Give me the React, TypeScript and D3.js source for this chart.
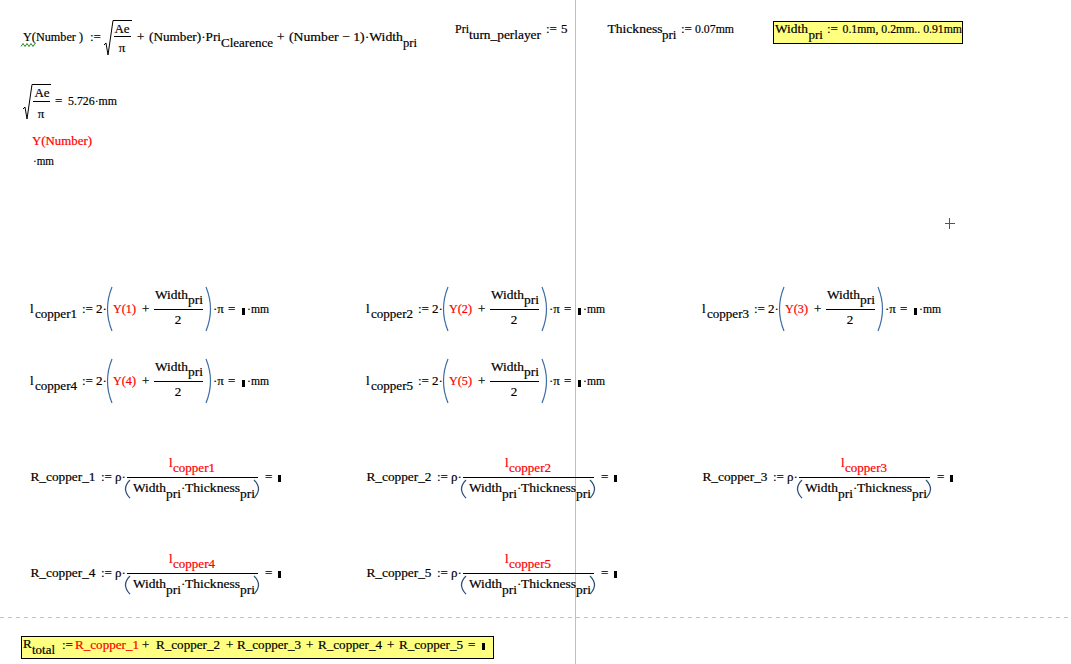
import React from "react";
import * as d3 from "d3";

const W = 1071, H = 664;
const FONT = "'Liberation Serif','Times New Roman',serif";
const FS = 13;
const RED = "#ff0000", INK = "#000000";

const lengthRows = [[1, 2, 3], [4, 5]];
const resistanceRows = [[1, 2, 3], [4, 5]];
const columnNames = ["a", "b", "c"];
const totalTerms = ["R_copper_1", "R_copper_2", "R_copper_3", "R_copper_4", "R_copper_5"];
const totalTermX = [75, 156, 237, 318, 399];
const totalPlusX = [142, 226, 306, 387, 468];
const totalOps = ["+", "+", "+", "+", "="];
const rangeText = "0.1mm, 0.2mm.. 0.91mm";

const colX = d3.scalePoint<string>().domain(columnNames).range([30, 702]);
const lenY = d3.scalePoint<string>().domain(["0", "1"]).range([313, 385]);
const resY = d3.scalePoint<string>().domain(["0", "1"]).range([481, 577]);
const line = d3.line<[number, number]>();

function T({ x, y, c = INK, a, w, children }: any) {
  const isRed = c === RED;
  return (
    <text
      x={x}
      y={y}
      fill={c}
      textAnchor={a}
      stroke={c}
      strokeWidth={isRed ? 0.22 : 0.2}
      fontFamily={FONT}
      fontSize={FS}
      textLength={w}
      lengthAdjust={w ? "spacingAndGlyphs" : undefined}
      xmlSpace="preserve"
    >
      {children}
    </text>
  );
}
function Bar({ x1, x2, y }: any) {
  return <path d={line([[x1, y], [x2, y]]) as string} stroke={INK} strokeWidth={1} fill="none" shapeRendering="crispEdges" />;
}
function Sqrt({ x, top, bottom, end }: any) {
  const d = line([[x, bottom - 10], [x + 2, bottom - 12], [x + 4, bottom], [x + 9, top], [end, top]]) as string;
  return <path d={d} stroke={INK} strokeWidth={1} fill="none" />;
}
function Dot({ x, y }: any) {
  return <rect x={x} y={y} width={3} height={7} fill={INK} />;
}
function Paren({ x, y0, y1, dir, col = "#3a6ea5" }: any) {
  const mid = (y0 + y1) / 2;
  const d = `M${x},${y0} Q${x - dir * 9},${mid} ${x},${y1}`;
  return <path d={d} stroke={col} strokeWidth={1.2} fill="none" />;
}

function LengthCell({ n, x, y }: any) {
  return (
    <g>
      <T x={x} y={y}>l</T>
      <T x={x + 5} y={y + 5} w={42}>{`copper${n}`}</T>
      <T x={x + 52} y={y}>:=</T>
      <T x={x + 66} y={y}>2·</T>
      <Paren x={x + 82} y0={y - 26} y1={y + 18} dir={1} />
      <T x={x + 83} y={y} c={RED} w={23}>{`Y(${n})`}</T>
      <T x={x + 112} y={y}>+</T>
      <T x={x + 125} y={y - 14} w={33}>Width</T>
      <T x={x + 158} y={y - 9} w={15}>pri</T>
      <Bar x1={x + 124} x2={x + 173} y={y - 3.5} />
      <T x={x + 148} y={y + 11} a="middle">2</T>
      <Paren x={x + 176} y0={y - 26} y1={y + 18} dir={-1} />
      <T x={x + 183} y={y}>·π</T>
      <T x={x + 198} y={y}>=</T>
      <Dot x={x + 212} y={y - 5} />
      <T x={x + 217} y={y} w={22}>·mm</T>
    </g>
  );
}

function ResistanceCell({ n, x, y }: any) {
  return (
    <g>
      <T x={x + 0.5} y={y} w={65}>{`R_copper_${n}`}</T>
      <T x={x + 71} y={y}>:=</T>
      <T x={x + 85} y={y}>ρ·</T>
      <T x={x + 139} y={y - 14} c={RED}>l</T>
      <T x={x + 143} y={y - 9} c={RED} w={42}>{`copper${n}`}</T>
      <Bar x1={x + 97} x2={x + 228} y={y - 3.5} />
      <Paren x={x + 100} y0={y - 1} y1={y + 17} dir={1} col="#2f4f78" />
      <T x={x + 103} y={y + 11} w={33}>Width</T>
      <T x={x + 136} y={y + 17} w={15}>pri</T>
      <T x={x + 151} y={y + 11}>·</T>
      <T x={x + 155} y={y + 11} w={55}>Thickness</T>
      <T x={x + 210} y={y + 17} w={15}>pri</T>
      <Paren x={x + 224} y0={y - 1} y1={y + 17} dir={-1} col="#2f4f78" />
      <T x={x + 235} y={y}>=</T>
      <Dot x={x + 248} y={y - 6} />
    </g>
  );
}

export default function App() {
  const cols = colX.domain();
  const squiggle = d3.range(21, 36, 2).map((px, i) => [px, i % 2 ? 43.5 : 46.5] as [number, number]);
  return (
    <svg width={W} height={H} viewBox={`0 0 ${W} ${H}`} style={{ position: "absolute", left: 0, top: 0, background: "#fff" }}>
      <rect x={773.5} y={21.5} width={189} height={22} fill="#ffff80" stroke={INK} />
      <rect x={21.5} y={636.5} width={472} height={22} fill="#ffff80" stroke={INK} />
      <path d={line([[575.5, 0], [575.5, H]]) as string} stroke="#c0c0c0" fill="none" />
      <path d={line([[0, 617.5], [W, 617.5]]) as string} stroke="#c0c0c0" strokeDasharray="4 4" fill="none" />
      <path d={line([[945, 223.5], [955, 223.5]]) as string} stroke="#555" fill="none" />
      <path d={line([[949.5, 218], [949.5, 229]]) as string} stroke="#555" fill="none" />

      <path d={line(squiggle) as string} stroke="#1f8a1f" fill="none" />
      <T x={23} y={41} w={60}>Y(Number )</T>
      <T x={90} y={41}>:=</T>
      <Sqrt x={104} top={20.5} bottom={55} end={132} />
      <T x={122} y={33} a="middle">Ae</T>
      <Bar x1={114} x2={131} y={36.5} />
      <T x={122} y={52} a="middle">π</T>
      <T x={137} y={41}>+</T>
      <T x={149} y={41} w={72}>(Number)·Pri</T>
      <T x={221} y={47} w={52}>Clearence</T>
      <T x={277} y={41}>+</T>
      <T x={289} y={41} w={114}>(Number − 1)·Width</T>
      <T x={403} y={47} w={14}>pri</T>

      <Sqrt x={23} top={84.5} bottom={119} end={51} />
      <T x={42} y={97} a="middle">Ae</T>
      <Bar x1={33} x2={50} y={101.5} />
      <T x={41} y={118} a="middle">π</T>
      <T x={55} y={105}>=</T>
      <T x={68} y={105} w={49}>5.726·mm</T>
      <T x={32} y={145} c={RED} w={60}>Y(Number)</T>
      <T x={33} y={165} w={21}>·mm</T>

      <T x={455} y={33} w={14}>Pri</T>
      <T x={469} y={39} w={72}>turn_perlayer</T>
      <T x={546} y={33}>:=</T>
      <T x={561} y={33}>5</T>
      <T x={607.5} y={33} w={55}>Thickness</T>
      <T x={662} y={39} w={14.5}>pri</T>
      <T x={681} y={33}>:=</T>
      <T x={695} y={33} w={39}>0.07mm</T>
      <T x={775} y={33} w={33}>Width</T>
      <T x={808.5} y={39} w={14.5}>pri</T>
      <T x={827} y={33}>:=</T>
      <T x={842.5} y={33} w={119.5}>{rangeText}</T>

      {lengthRows.map((row, r) =>
        row.map((n, i) => <LengthCell key={n} n={n} x={colX(cols[i])} y={lenY(String(r))} />)
      )}
      {resistanceRows.map((row, r) =>
        row.map((n, i) => <ResistanceCell key={n} n={n} x={colX(cols[i])} y={resY(String(r))} />)
      )}

      <T x={23} y={648}>R</T>
      <T x={32} y={654} w={23}>total</T>
      <T x={62} y={649}>:=</T>
      {totalTerms.map((t, i) => (
        <g key={t}>
          <T x={totalTermX[i]} y={649} c={i === 0 ? RED : INK} w={64}>{t}</T>
          <T x={totalPlusX[i]} y={649}>{totalOps[i]}</T>
        </g>
      ))}
      <Dot x={482} y={643} />
    </svg>
  );
}
